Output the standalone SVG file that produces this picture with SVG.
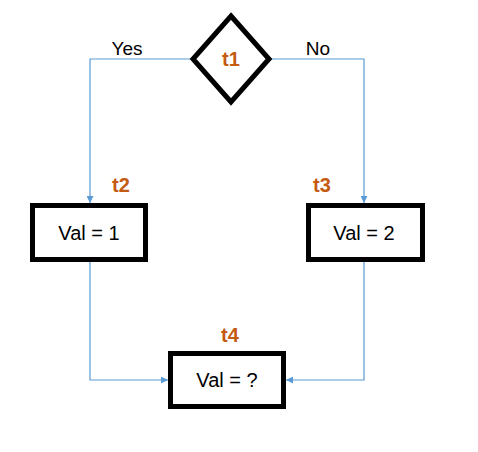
<svg xmlns="http://www.w3.org/2000/svg" width="478" height="452" viewBox="0 0 478 452">
<style>
.box{fill:#fff;stroke:#000;stroke-width:5}
.conn{fill:none;stroke:#5B9BD5;stroke-width:1.2}
.val{font-family:"Liberation Sans",Arial,sans-serif;font-size:20px;fill:#000;text-anchor:middle}
.lbl{font-family:"Liberation Sans",Arial,sans-serif;font-size:20px;font-weight:bold;fill:#C55A11;text-anchor:middle}
.yn{font-family:"Liberation Sans",Arial,sans-serif;font-size:19px;fill:#000;text-anchor:middle}
</style>
<defs>
<marker id="arr" viewBox="0 0 10 10" refX="10" refY="5" markerWidth="7" markerHeight="7" markerUnits="userSpaceOnUse" orient="auto">
<path d="M0,0 L10,5 L0,10 z" fill="#5B9BD5"/>
</marker>
</defs>
<rect width="478" height="452" fill="#fff"/>
<g id="connectors">
<path class="conn" d="M190,59 H90 V203" marker-end="url(#arr)"/>
<path class="conn" d="M271,59 H364 V203" marker-end="url(#arr)"/>
<path class="conn" d="M90,262 V380 H168" marker-end="url(#arr)"/>
<path class="conn" d="M364,262 V380 H286" marker-end="url(#arr)"/>
<text class="yn" x="127" y="55">Yes</text>
<text class="yn" x="318" y="55">No</text>
</g>
<g id="t1">
<polygon class="box" points="231,16 269,59 231,102 193,59"/>
<text class="lbl" x="231" y="66">t1</text>
</g>
<g id="t2">
<rect class="box" x="32.5" y="205.5" width="113" height="54"/>
<text class="val" x="89" y="240">Val = 1</text>
<text class="lbl" x="121" y="192">t2</text>
</g>
<g id="t3">
<rect class="box" x="308.5" y="205.5" width="114" height="54"/>
<text class="val" x="364" y="240">Val = 2</text>
<text class="lbl" x="322" y="192">t3</text>
</g>
<g id="t4">
<rect class="box" x="170.5" y="353.5" width="113" height="53"/>
<text class="val" x="227" y="387">Val = ?</text>
<text class="lbl" x="230" y="342">t4</text>
</g>
</svg>
